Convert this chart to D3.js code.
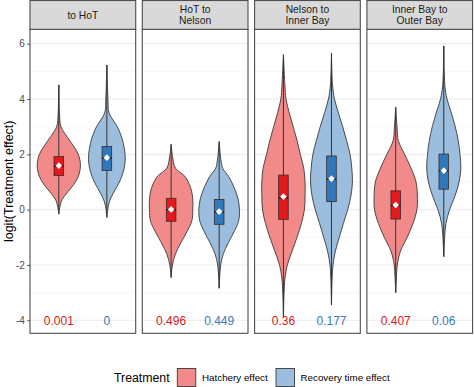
<!DOCTYPE html>
<html>
<head>
<meta charset="utf-8">
<script src="https://cdn.jsdelivr.net/npm/d3@7/dist/d3.min.js"></script>
<style>
  html, body { margin: 0; padding: 0; background: #fff; }
  svg { display: block; font-family: "Liberation Sans", Arial, sans-serif; }
</style>
</head>
<body>
<svg id="chart" width="474" height="387"></svg>
<script>
// ---------------- data ----------------
const facets = [["to HoT"], ["HoT to", "Nelson"], ["Nelson to", "Inner Bay"], ["Inner Bay to", "Outer Bay"]];
const treatments = ["Hatchery effect", "Recovery time effect"];
const yTicks = [-4, -2, 0, 2, 4, 6];
const yTickLabels = ["-4", "-2", "0", "2", "4", "6"];
const yMinor = [-3, -1, 1, 3, 5];

const hatcheryMin    = [-0.16, -2.45, -3.87, -3.00];
const hatcheryMax    = [4.51, 2.36, 5.60, 3.70];
const hatcheryQ1     = [1.23, -0.42, -0.35, -0.34];
const hatcheryQ3     = [1.92, 0.41, 1.25, 0.68];
const hatcheryMedian = [1.57, 0.00, 0.43, 0.15];
const hatcheryMean   = [1.59, 0.01, 0.47, 0.17];
const hatcheryP      = ["0.001", "0.496", "0.36", "0.407"];

const recoveryMin    = [-0.28, -2.84, -3.45, -1.70];
const recoveryMax    = [5.23, 2.46, 5.66, 5.92];
const recoveryQ1     = [1.42, -0.53, 0.29, 0.74];
const recoveryQ3     = [2.28, 0.37, 1.94, 2.01];
const recoveryMedian = [1.86, -0.08, 1.10, 1.40];
const recoveryMean   = [1.88, -0.07, 1.12, 1.41];
const recoveryP      = ["0", "0.449", "0.177", "0.06"];

// violin outlines: [value, relative half-width]
const hatcheryViolin = [
  [[4.51,0],[3.5,0.03],[3.0,0.1],[2.64,0.38],[2.3,0.68],[2.0,0.9],[1.6,1.0],[1.2,0.9],[0.9,0.68],[0.6,0.37],[0.35,0.14],[0.1,0.05],[-0.16,0]],
  [[2.36,0],[1.9,0.07],[1.5,0.2],[1.2,0.64],[0.8,0.9],[0.4,1.0],[0,1.0],[-0.4,0.96],[-0.8,0.73],[-1.2,0.45],[-1.6,0.2],[-2.0,0.06],[-2.45,0]],
  [[5.6,0],[4.5,0.07],[4.0,0.12],[3.5,0.27],[3.0,0.45],[2.5,0.63],[2.0,0.78],[1.5,0.94],[1.0,1.0],[0.5,1.0],[0,0.97],[-0.5,0.83],[-1.0,0.63],[-1.5,0.4],[-2.0,0.18],[-2.5,0.07],[-3.0,0.03],[-3.87,0]],
  [[3.7,0],[3.0,0.06],[2.5,0.12],[2.0,0.41],[1.5,0.71],[1.0,0.94],[0.5,1.0],[0,0.98],[-0.5,0.8],[-1.0,0.53],[-1.5,0.22],[-2.0,0.07],[-2.5,0.03],[-3.0,0]]
];
const recoveryViolin = [
  [[5.23,0],[4.0,0.05],[3.5,0.1],[3.0,0.48],[2.6,0.69],[2.2,0.81],[1.8,0.85],[1.4,0.77],[1.0,0.58],[0.6,0.3],[0.3,0.12],[0,0.04],[-0.28,0]],
  [[2.46,0],[1.8,0.08],[1.5,0.16],[1.2,0.44],[0.8,0.69],[0.4,0.87],[0,0.94],[-0.4,0.9],[-0.8,0.69],[-1.2,0.42],[-1.6,0.19],[-2.0,0.07],[-2.5,0.02],[-2.84,0]],
  [[5.66,0],[4.5,0.05],[4.0,0.14],[3.5,0.32],[3.0,0.52],[2.5,0.7],[2.0,0.86],[1.5,0.94],[1.0,0.97],[0.5,0.9],[0,0.75],[-0.5,0.55],[-1.0,0.36],[-1.5,0.18],[-2.0,0.07],[-2.5,0.03],[-3.45,0]],
  [[5.92,0],[4.5,0.05],[4.0,0.15],[3.5,0.35],[3.0,0.53],[2.5,0.67],[2.0,0.75],[1.5,0.79],[1.0,0.71],[0.5,0.52],[0,0.27],[-0.5,0.1],[-1.0,0.04],[-1.7,0]]
];

// ---------------- styling ----------------
const violinFill = ["#F28A8A", "#9BBDDE"];
const boxFill = ["#E3191E", "#3078BC"];
const pColor = ["#D7191C", "#3A78B4"];

const series = [
  { min: hatcheryMin, max: hatcheryMax, q1: hatcheryQ1, q3: hatcheryQ3, med: hatcheryMedian, mean: hatcheryMean, p: hatcheryP, violin: hatcheryViolin },
  { min: recoveryMin, max: recoveryMax, q1: recoveryQ1, q3: recoveryQ3, med: recoveryMedian, mean: recoveryMean, p: recoveryP, violin: recoveryViolin }
];

const svg = d3.select("#chart");
const panelW = 105.7, panelGap = 6.6, panelLeft0 = 30;
const panelTop = 29.3, panelBottom = 333.3, stripTop = 0.5;

const y = d3.scaleLinear().domain([-4.47, 6.52]).range([panelBottom, panelTop]);

// y axis
const yAxisG = svg.append("g").attr("transform", `translate(${panelLeft0},0)`);
yAxisG.call(d3.axisLeft(y).tickValues(yTicks).tickSize(2.7).tickPadding(2.5)
  .tickFormat((d, i) => yTickLabels[i]));
yAxisG.select(".domain").remove();
yAxisG.selectAll(".tick line").attr("stroke", "#333").attr("stroke-width", 0.9);
yAxisG.selectAll(".tick text").attr("fill", "#4D4D4D").attr("font-size", 10)
  .attr("font-family", "'Liberation Sans', Arial, sans-serif");

svg.append("text")
  .attr("transform", `translate(12.5,${(panelTop + panelBottom) / 2}) rotate(-90)`)
  .attr("text-anchor", "middle").attr("font-size", 12.5).attr("fill", "#000")
  .text("logit(Treatment effect)");

facets.forEach((lines, i) => {
  const left = panelLeft0 + i * (panelW + panelGap);
  // discrete scale with ggplot-like expansion 0.6 -> positions
  const xPos = d3.scalePoint().domain(treatments).range([left + panelW * 0.6 / 2.2, left + panelW * 1.6 / 2.2]);
  const unit = xPos.step();
  const g = svg.append("g");

  // panel background & grid
  g.append("rect").attr("x", left).attr("y", panelTop).attr("width", panelW).attr("height", panelBottom - panelTop).attr("fill", "#fff");
  g.selectAll(".minor").data(yMinor).join("line")
    .attr("x1", left).attr("x2", left + panelW).attr("y1", d => y(d)).attr("y2", d => y(d))
    .attr("stroke", "#F3F3F3").attr("stroke-width", 0.6);
  g.selectAll(".major").data(yTicks).join("line")
    .attr("x1", left).attr("x2", left + panelW).attr("y1", d => y(d)).attr("y2", d => y(d))
    .attr("stroke", "#EBEBEB").attr("stroke-width", 1);

  series.forEach((s, k) => {
    const cx = xPos(treatments[k]);
    const hw = 0.45 * unit;
    const area = d3.area()
      .y(d => y(d[0]))
      .x0(d => cx - d[1] * hw)
      .x1(d => cx + d[1] * hw)
      .curve(d3.curveCatmullRom.alpha(0.5));
    g.append("path").attr("d", area(s.violin[i]))
      .attr("fill", violinFill[k]).attr("stroke", "#3A3A3A").attr("stroke-width", 0.9);
    // whisker line
    g.append("line").attr("x1", cx).attr("x2", cx).attr("y1", y(s.max[i])).attr("y2", y(s.min[i]))
      .attr("stroke", "#333").attr("stroke-width", 1);
    // box
    const bw = 0.2 * unit;
    g.append("rect").attr("x", cx - bw / 2).attr("width", bw)
      .attr("y", y(s.q3[i])).attr("height", y(s.q1[i]) - y(s.q3[i]))
      .attr("fill", boxFill[k]).attr("stroke", "#3A2A2A").attr("stroke-width", 0.8);
    g.append("line").attr("x1", cx - bw / 2).attr("x2", cx + bw / 2).attr("y1", y(s.med[i])).attr("y2", y(s.med[i]))
      .attr("stroke", "#111").attr("stroke-width", 1.2);
    // mean marker
    g.append("path").attr("transform", `translate(${cx},${y(s.mean[i])})`)
      .attr("d", d3.symbol().type(d3.symbolDiamond2).size(28)())
      .attr("fill", "#fff");
    // p-value
    g.append("text").attr("x", cx).attr("y", y(-4) + 4.3).attr("text-anchor", "middle")
      .attr("font-size", 12).attr("fill", pColor[k]).text(s.p[i]);
  });

  // border
  g.append("rect").attr("x", left).attr("y", panelTop).attr("width", panelW).attr("height", panelBottom - panelTop)
    .attr("fill", "none").attr("stroke", "#4D4D4D").attr("stroke-width", 1.1);

  // strip
  g.append("rect").attr("x", left).attr("y", stripTop).attr("width", panelW).attr("height", panelTop - stripTop)
    .attr("fill", "#D9D9D9").attr("stroke", "#4D4D4D").attr("stroke-width", 1.1);
  const cxStrip = left + panelW / 2;
  const lh = 11;
  const midY = (stripTop + panelTop) / 2;
  lines.forEach((t, j) => {
    g.append("text").attr("x", cxStrip)
      .attr("y", midY + (j - (lines.length - 1) / 2) * lh + 3.7)
      .attr("text-anchor", "middle").attr("font-size", 10.3).attr("fill", "#1A1A1A").text(t);
  });
});

// legend
const lg = svg.append("g");
lg.append("text").attr("x", 114).attr("y", 382).attr("font-size", 12.3).attr("fill", "#000").text("Treatment");
const keyX = [177.3, 276];
const labX = [202, 300.5];
treatments.forEach((t, k) => {
  lg.append("rect").attr("x", keyX[k]).attr("y", 368.5).attr("width", 18.5).attr("height", 18)
    .attr("fill", violinFill[k]).attr("stroke", "#3A3A3A").attr("stroke-width", 0.9);
  lg.append("text").attr("x", labX[k]).attr("y", 381).attr("font-size", 9.8).attr("fill", "#000").text(t);
});
</script>
</body>
</html>
